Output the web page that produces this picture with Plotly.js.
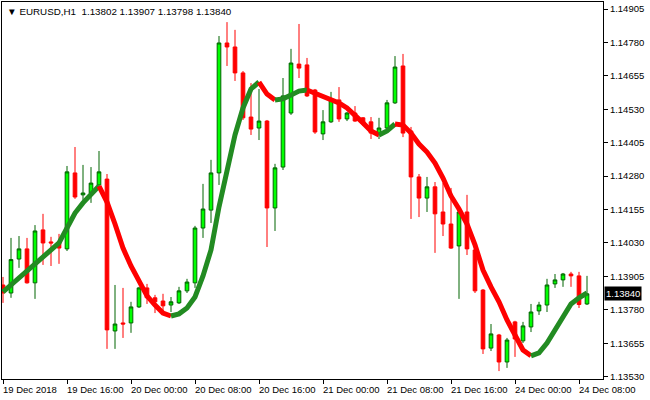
<!DOCTYPE html>
<html>
<head>
<meta charset="utf-8">
<script src="https://cdn.plot.ly/plotly-3.0.1.min.js"></script>
<style>html,body{margin:0;padding:0;background:#fff;}#chart{width:650px;height:400px;}</style>
</head>
<body>
<div id="chart"></div>
<script>
const symbol = "EURUSD";
const timeframe = "H1";
const opens = [1.13873,1.13843,1.13970,1.14008,1.13881,1.14079,1.14034,1.14034,1.14008,1.14292,
1.14210,1.14217,1.14247,1.14269,1.13701,1.13731,1.13731,1.13791,1.13862,1.13825,
1.13813,1.13798,1.13806,1.13851,1.13881,1.14086,1.14153,1.14292,1.14778,1.14763,
1.14666,1.14501,1.14460,1.14486,1.14161,1.14314,1.14516,1.14699,1.14696,1.14602,
1.14438,1.14483,1.14565,1.14494,1.14516,1.14498,1.14483,1.14438,1.14460,1.14554,
1.14692,1.14449,1.14277,1.14198,1.14240,1.14146,1.14101,1.14019,1.14146,1.14004,
1.13854,1.13637,1.13686,1.13585,1.13735,1.13664,1.13716,1.13776,1.13798,1.13877,
1.13892,1.13914,1.13907,1.13802];
const highs = [1.13903,1.14049,1.14056,1.14049,1.14097,1.14139,1.14053,1.14064,1.14318,1.14389,
1.14322,1.14314,1.14374,1.14288,1.13873,1.13862,1.13810,1.13866,1.13877,1.13836,
1.13840,1.13828,1.13866,1.13896,1.14094,1.14251,1.14341,1.14804,1.14856,1.14827,
1.14673,1.14628,1.14606,1.14490,1.14326,1.14647,1.14756,1.14849,1.14722,1.14606,
1.14527,1.14595,1.14613,1.14520,1.14542,1.14501,1.14501,1.14498,1.14565,1.14729,
1.14737,1.14464,1.14288,1.14277,1.14258,1.14254,1.14236,1.14150,1.14210,1.14008,
1.13858,1.13727,1.13690,1.13675,1.13739,1.13735,1.13802,1.13810,1.13896,1.13914,
1.13918,1.13922,1.13922,1.13907];
const lows = [1.13806,1.13825,1.13937,1.13878,1.13821,1.13948,1.13944,1.13952,1.14000,1.14195,
1.14191,1.14180,1.14228,1.13634,1.13634,1.13675,1.13694,1.13787,1.13802,1.13768,
1.13768,1.13772,1.13802,1.13843,1.13862,1.14049,1.14105,1.14247,1.14692,1.14636,
1.14490,1.14434,1.14415,1.14015,1.14075,1.14303,1.14509,1.14647,1.14576,1.14438,
1.14415,1.14479,1.14483,1.14486,1.14483,1.14468,1.14419,1.14419,1.14456,1.14550,
1.14426,1.14120,1.14127,1.14146,1.13993,1.14056,1.14008,1.13821,1.13985,1.13843,
1.13615,1.13626,1.13551,1.13563,1.13604,1.13656,1.13697,1.13761,1.13772,1.13862,
1.13866,1.13866,1.13787,1.13798];
const closes = [1.13843,1.13968,1.14008,1.13881,1.14075,1.14030,1.14030,1.14011,1.14296,1.14202,
1.14217,1.14254,1.14296,1.13705,1.13727,1.13727,1.13791,1.13862,1.13825,1.13810,
1.13795,1.13810,1.13851,1.13884,1.14086,1.14157,1.14292,1.14778,1.14763,1.14666,
1.14498,1.14456,1.14486,1.14161,1.14311,1.14580,1.14703,1.14684,1.14580,1.14445,
1.14483,1.14565,1.14494,1.14516,1.14486,1.14475,1.14441,1.14460,1.14554,1.14688,
1.14441,1.14277,1.14198,1.14240,1.14139,1.14101,1.14011,1.14146,1.14008,1.13851,
1.13634,1.13690,1.13585,1.13667,1.13671,1.13720,1.13772,1.13798,1.13873,1.13892,
1.13914,1.13907,1.13800,1.13840];
const maValues = [1.13847,1.13873,1.13899,1.13922,1.13948,1.13978,1.14004,1.14030,1.14086,1.14142,
1.14180,1.14213,1.14243,1.14183,1.14101,1.14011,1.13944,1.13884,1.13832,1.13798,
1.13768,1.13757,1.13765,1.13787,1.13828,1.13907,1.14004,1.14165,1.14292,1.14434,
1.14535,1.14606,1.14632,1.14587,1.14565,1.14569,1.14583,1.14598,1.14602,1.14591,
1.14580,1.14569,1.14554,1.14535,1.14509,1.14479,1.14449,1.14434,1.14449,1.14475,
1.14471,1.14441,1.14400,1.14370,1.14329,1.14273,1.14206,1.14157,1.14101,1.14023,
1.13929,1.13866,1.13810,1.13742,1.13686,1.13630,1.13608,1.13619,1.13656,1.13705,
1.13757,1.13802,1.13825,1.13843];
const xTickIdx = [0,8,16,24,32,40,48,56,64,72];
const xTickText = ["19 Dec 2018","19 Dec 16:00","20 Dec 00:00","20 Dec 08:00","20 Dec 16:00","21 Dec 00:00","21 Dec 08:00","21 Dec 16:00","24 Dec 00:00","24 Dec 08:00"];
const yTickVals = [1.13530,1.13655,1.13780,1.13905,1.14030,1.14155,1.14280,1.14405,1.14530,1.14655,1.14780,1.14905];

const idx = opens.map((_, i) => i);
const FONT = "Liberation Sans, Arial, sans-serif";

const traces = [{
  type: 'candlestick',
  x: idx, open: opens, high: highs, low: lows, close: closes,
  increasing: {fillcolor: '#00ff00', line: {color: '#006400', width: 1}},
  decreasing: {fillcolor: '#ff0000', line: {color: '#ff0000', width: 1}},
  whiskerwidth: 0,
  hoverinfo: 'skip',
  showlegend: false
}];

// MA split into rising (green) / falling (red) segments
let segStart = 0;
let segUp = maValues[1] >= maValues[0];
for (let i = 1; i <= maValues.length; i++) {
  const up = i < maValues.length ? maValues[i] >= maValues[i-1] : null;
  if (i === maValues.length || up !== segUp) {
    const xs = [], ys = [];
    for (let k = segStart; k < i; k++) { xs.push(k); ys.push(maValues[k]); }
    traces.push({type: 'scatter', mode: 'lines', x: xs, y: ys,
      line: {color: segUp ? '#228b22' : '#ff0000', width: 5, shape: 'linear'},
      hoverinfo: 'skip', showlegend: false});
    segStart = i - 1;
    segUp = up;
  }
}

const last = opens.length - 1;
const headerText = '\u25BC ' + symbol + ',' + timeframe + '  ' + opens[last].toFixed(5) + ' ' + highs[last].toFixed(5) + ' ' + lows[last].toFixed(5) + ' ' + closes[last].toFixed(5);

const annotations = xTickIdx.map((v, i) => ({
  xref: 'x', yref: 'paper', x: v, y: 0, xanchor: 'left', yanchor: 'top',
  text: xTickText[i], showarrow: false, xshift: -2, yshift: -3,
  font: {family: FONT, size: 9.5, color: '#000'}
}));
annotations.push({
  xref: 'paper', yref: 'paper', x: 0, y: 1, xanchor: 'left', yanchor: 'top',
  text: headerText, showarrow: false, xshift: 3, yshift: -2,
  font: {family: FONT, size: 9.8, color: '#000'}
});
annotations.push({
  xref: 'paper', yref: 'y', x: 1, y: closes[last], xanchor: 'left', yanchor: 'middle',
  text: closes[last].toFixed(5), showarrow: false, xshift: 1,
  bgcolor: '#000000', borderpad: 1,
  font: {family: FONT, size: 9.5, color: '#ffffff'}
});

const layout = {
  width: 650, height: 400,
  margin: {l: 2, r: 47, t: 2, b: 21, pad: 0},
  paper_bgcolor: '#ffffff', plot_bgcolor: '#ffffff',
  showlegend: false,
  xaxis: {
    range: [-0.125, 75.0], rangeslider: {visible: false},
    tickmode: 'array', tickvals: xTickIdx, ticktext: xTickIdx.map(() => ''),
    ticks: 'outside', ticklen: 4, tickcolor: '#000', tickwidth: 1,
    showline: true, linecolor: '#000', linewidth: 1, mirror: true,
    showgrid: false, zeroline: false, fixedrange: true
  },
  yaxis: {
    side: 'right', range: [1.135214, 1.149312],
    tickmode: 'array', tickvals: yTickVals, ticktext: yTickVals.map(v => v.toFixed(5)),
    ticks: 'outside', ticklen: 4, tickcolor: '#000', tickwidth: 1,
    showline: true, linecolor: '#000', linewidth: 1, mirror: true,
    showgrid: false, zeroline: false, fixedrange: true,
    tickfont: {family: FONT, size: 9.5, color: '#000'}
  },
  boxgap: 0.35,
  annotations: annotations
};

Plotly.newPlot('chart', traces, layout, {staticPlot: true, displayModeBar: false});
</script>
</body>
</html>
